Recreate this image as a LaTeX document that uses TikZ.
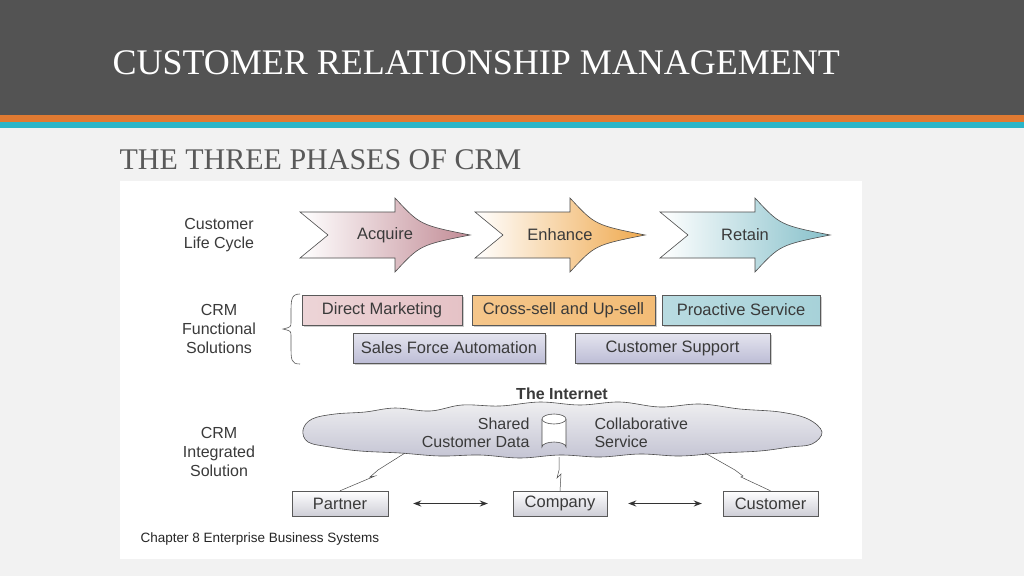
\documentclass[tikz,border=0pt]{standalone}
\usepackage{fontspec}
\setmainfont{Liberation Serif}
\newfontfamily\dsans{Liberation Sans}
\usetikzlibrary{shadows,arrows.meta}
\definecolor{hdr}{HTML}{535353}
\definecolor{bg}{HTML}{F2F2F2}
\definecolor{org}{HTML}{E07A32}
\definecolor{tea}{HTML}{2BB5C8}
\definecolor{acq}{HTML}{C28C96}
\definecolor{enh}{HTML}{EFA94E}
\definecolor{ret}{HTML}{86C0CA}
\definecolor{bpink}{HTML}{E5C2C6}
\definecolor{borg}{HTML}{F3BC76}
\definecolor{btea}{HTML}{A7D2D9}
\definecolor{blav}{HTML}{BDBDD6}
\definecolor{txt}{HTML}{3A3A3A}
\tikzset{
 lbl/.style={font=\dsans\fontsize{16}{19}\selectfont,text=txt,align=center},
 fbox/.style={draw=gray!70!black,minimum height=30pt,font=\dsans\fontsize{16.5}{19}\selectfont,text=txt,drop shadow={shadow xshift=1.5pt,shadow yshift=-1.5pt,opacity=.4}},
 sbox/.style={draw=gray!70!black,minimum height=25pt,font=\dsans\fontsize{16.5}{19}\selectfont,text=txt,top color=white,bottom color=blue!10!gray!35},
 chev/.style={draw=gray!60!black,line width=.6pt},
 link/.style={draw=gray!60!black,line width=.5pt},
 dbl/.style={{Stealth[length=8pt]}-{Stealth[length=8pt]},line width=1.5pt,draw=black!80}
}
\newcommand{\chevron}[3]{%
 \path[chev,left color=white,right color=#2] (#1,212) -- (#1+95,212) -- (#1+95,198) .. controls (#1+120,225) .. (#1+170,235) .. controls (#1+120,245) .. (#1+95,272) -- (#1+95,258) -- (#1,258) -- (#1+28,235) -- cycle;
 \node[lbl,font=\dsans\fontsize{16.5}{19}\selectfont] (#3) at (#1+85,235) {\csname lbl#3\endcsname};}
\def\lblacq{Acquire}\def\lblenh{Enhance}\def\lblret{Retain}
\begin{document}
\begin{tikzpicture}[x=1pt,y=-1pt]
\fill[bg] (0,0) rectangle (1024,576);
\fill[hdr] (0,0) rectangle (1024,115);
\fill[org] (0,115) rectangle (1024,122);
\fill[tea] (0,122) rectangle (1024,128);
\node[anchor=west,text=white,font=\fontsize{36}{40}\selectfont] (title) at (109,63) {CUSTOMER RELATIONSHIP MANAGEMENT};
\node[anchor=west,text=black!65,font=\fontsize{30}{34}\selectfont] (sub) at (116,160) {THE THREE PHASES OF CRM};
\fill[white] (120,181) rectangle (862,559);
% row labels
\node[lbl] (l1) at (219,235) {Customer\\Life Cycle};
\node[lbl] (l2) at (219,329) {CRM\\Functional\\Solutions};
\node[lbl] (l3) at (219,452) {CRM\\Integrated\\Solution};
\draw[gray!70!black,line width=.6pt] (300,294) .. controls (291,294) and (291,300) .. (291,314) -- (291,322) .. controls (291,327) .. (283,329) .. controls (291,331) .. (291,336) -- (291,345) .. controls (291,360) and (291,364) .. (300,364);
% chevrons
\chevron{300}{acq}{acq}
\chevron{475}{enh}{enh}
\chevron{660}{ret}{ret}
% functional boxes
\node[fbox,minimum width=160pt,left color=bpink!70,right color=bpink] (dm) at (382,310) {Direct Marketing};
\node[fbox,minimum width=183pt,left color=borg!85,right color=borg] (cs) at (563.5,310) {Cross-sell and Up-sell};
\node[fbox,minimum width=158pt,left color=btea!80,right color=btea] (ps) at (741,310) {Proactive Service};
\node[fbox,minimum width=192pt,top color=blav!40,bottom color=blav] (sfa) at (449,348) {Sales Force Automation};
\node[fbox,minimum width=195pt,top color=blav!40,bottom color=blav] (csup) at (672.5,348) {Customer Support};
% cloud
\path[draw=gray!60!black,line width=.6pt,top color=blue!6!gray!12,bottom color=blue!15!gray!40] plot[smooth cycle,tension=.6] coordinates {(303,430) (312,419) (335,414) (365,412) (395,408) (430,411) (462,405) (500,406) (540,402) (580,405) (620,402) (660,407) (700,404) (740,409) (780,412) (808,419) (822,432) (812,444) (790,447) (760,451) (720,453) (680,456) (640,454) (600,457) (560,455) (520,458) (480,455) (440,456) (400,453) (360,451) (330,447) (308,442)};
\coordinate (cloud) at (561,432);
\node[lbl,font=\dsans\bfseries\fontsize{16}{19}\selectfont] (inet) at (562,394) {The Internet};
\draw[gray!60!black,fill=white,line width=.6pt] (542,419) -- (542,447) arc[start angle=180,end angle=360,x radius=12,y radius=5] -- (566,419);
\draw[gray!60!black,fill=white,line width=.6pt] (554,419) ellipse[x radius=12,y radius=5];
\node[lbl,align=right,anchor=east,font=\dsans\fontsize{16}{18}\selectfont] (shd) at (533,433) {Shared\\Customer Data};
\node[lbl,align=left,anchor=west,font=\dsans\fontsize{16}{18}\selectfont] (col) at (591,433) {Collaborative\\Service};
% bottom boxes
\node[sbox,minimum width=96pt] (par) at (340,503.5) {Partner};
\node[sbox,minimum width=94pt] (com) at (560,503.5) {Company};
\node[sbox,minimum width=95pt] (cus) at (770.5,503.5) {Customer};
\coordinate (c1) at (405,453);
\coordinate (c2) at (559,457);
\coordinate (c3) at (705,453);
\draw[link] (c1) -- (378,470) -- (370,477) -- (375,476) -- (par.north);
\draw[link] (c2) -- (559,470) -- (557,478) -- (561,474) -- (com.north);
\draw[link] (c3) -- (735,470) -- (743,476) -- (741,477) -- (cus.north);
\draw[dbl] ([xshift=25pt]par.east) -- ([xshift=-25pt]com.west);
\draw[dbl] ([xshift=21pt]com.east) -- ([xshift=-21pt]cus.west);
\node[lbl,anchor=west,font=\dsans\fontsize{13.5}{15}\selectfont,text=black!85] (ch) at (137,539) {Chapter 8 Enterprise Business Systems};
\end{tikzpicture}
\end{document}
